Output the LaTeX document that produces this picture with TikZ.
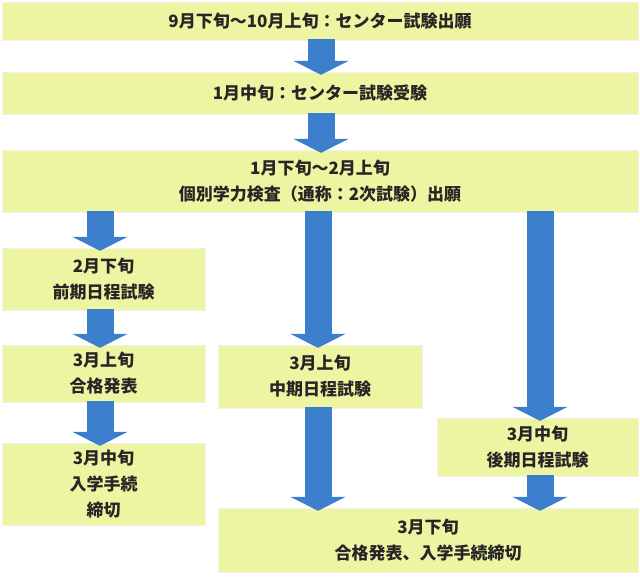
\documentclass[tikz,border=0pt]{standalone}
\usepackage{fontspec}
\setmainfont{Noto Sans CJK JP}
\usetikzlibrary{arrows.meta}
\definecolor{boxc}{HTML}{EEF5A2}
\definecolor{arr}{HTML}{3C7FCC}
\begin{document}
\begin{tikzpicture}[x=1pt,y=-1pt,
  box/.style={fill=boxc,draw=boxc!80!black!20!white,line width=0.4pt,inner sep=0pt,align=center,font=\fontsize{17}{26}\selectfont\bfseries,text=black!85},
  barrow/.style={draw=arr,line width=27pt,-{Triangle[width=28pt 1,length=14pt 0]}}]
\useasboundingbox (0,0) rectangle (640,578);
\node[box,minimum width=636,minimum height=38] (b1) at (320,21) {9月下旬～10月上旬：センター試験出願};
\node[box,minimum width=636,minimum height=42] (b2) at (320,93) {1月中旬：センター試験受験};
\node[box,minimum width=636,minimum height=62] (b3) at (320,181) {1月下旬～2月上旬\\個別学力検査（通称：2次試験）出願};
\node[box,minimum width=203,minimum height=62] (l1) at (103.5,279) {2月下旬\\前期日程試験};
\node[box,minimum width=203,minimum height=57] (l2) at (103.5,373.5) {3月上旬\\合格発表};
\node[box,minimum width=203,minimum height=82] (l3) at (103.5,484) {3月中旬\\入学手続\\締切};
\node[box,minimum width=204,minimum height=63] (m1) at (320,376.5) {3月上旬\\中期日程試験};
\node[box,minimum width=201,minimum height=58] (r1) at (537.5,447) {3月中旬\\後期日程試験};
\node[box,minimum width=420,minimum height=64] (b4) at (428,540) {3月下旬\\合格発表、入学手続締切};
\coordinate (xc) at (321,0);
\coordinate (xl) at (100,0);
\coordinate (xm) at (318,0);
\coordinate (xr) at (540,0);
\draw[barrow] ([yshift=1]b1.south -| xc) -- ([yshift=-3]b2.north -| xc);
\draw[barrow] ([yshift=1]b2.south -| xc) -- ([yshift=-3]b3.north -| xc);
\draw[barrow] ([yshift=1]b3.south -| xl) -- ([yshift=-3]l1.north -| xl);
\draw[barrow] ([yshift=1]l1.south -| xl) -- ([yshift=-3]l2.north -| xl);
\draw[barrow] ([yshift=1]l2.south -| xl) -- ([yshift=-3]l3.north -| xl);
\draw[barrow] ([yshift=1]b3.south -| xm) -- ([yshift=-3]m1.north -| xm);
\draw[barrow] ([yshift=1]m1.south -| xm) -- ([yshift=-3]b4.north -| xm);
\draw[barrow] ([yshift=1]b3.south -| xr) -- ([yshift=-3]r1.north -| xr);
\draw[barrow] ([yshift=1]r1.south -| xr) -- ([yshift=-3]b4.north -| xr);
\end{tikzpicture}
\end{document}
